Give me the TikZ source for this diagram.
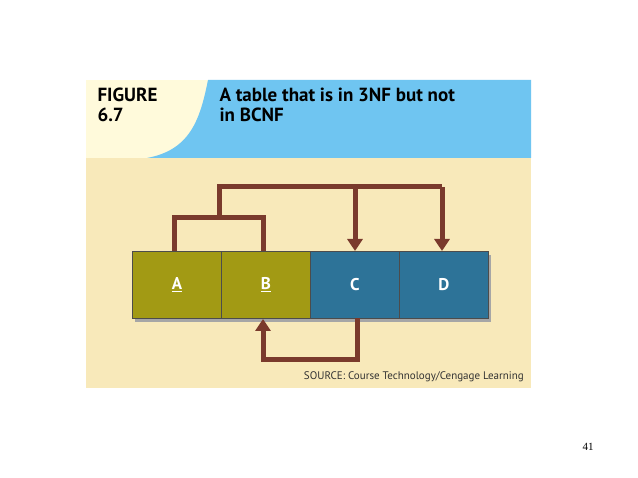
\documentclass[tikz,border=0pt]{standalone}
\usepackage{fontspec}
\setmainfont{PT Sans}
\newfontfamily\numfont{Liberation Serif}
\usetikzlibrary{arrows.meta}
\definecolor{cream}{HTML}{FFFADB}
\definecolor{skyb}{HTML}{6FC5F1}
\definecolor{bodyc}{HTML}{F8E9BA}
\definecolor{olive}{HTML}{A29A14}
\definecolor{teal}{HTML}{2D7398}
\definecolor{arrc}{HTML}{7A3A2C}
\begin{document}
\begin{tikzpicture}[x=1pt,y=-1pt,
  cell/.style={draw=black!70,line width=0.8pt,minimum width=89pt,minimum height=67pt,inner sep=0pt,text=white,font=\bfseries\fontsize{17}{17}\selectfont},
  dep/.style={draw=arrc,line width=5pt},
  deparr/.style={dep,-{Triangle[width=15pt,length=12pt]}}]
\useasboundingbox (0,0) rectangle (638,478);
\fill[white] (0,0) rectangle (638,478);
\fill[bodyc] (86,158) rectangle (531,388);
\fill[cream] (86,80) rectangle (531,158);
\fill[skyb] (208,80) -- (531,80) -- (531,158) -- (147,158) .. controls (190,150) and (200,120) .. (208,80) -- cycle;
\node[anchor=north west,align=left,font=\bfseries\fontsize{19}{20}\selectfont] (fig) at (94,84) {FIGURE\\6.7};
\node[anchor=north west,align=left,font=\bfseries\fontsize{19}{20}\selectfont] (title) at (216,84) {A table that is in 3NF but not\\in BCNF};
\fill[black!35] (135,255) rectangle (491,322);
\node[cell,fill=olive,anchor=north west] (A) at (132,251) {\underline{A}};
\node[cell,fill=olive,anchor=north west] (B) at (221,251) {\underline{B}};
\node[cell,fill=teal,anchor=north west] (C) at (310,251) {C};
\node[cell,fill=teal,anchor=north west] (D) at (399,251) {D};
\coordinate (ja) at (174,218);
\coordinate (jb) at (263,218);
\coordinate (jm) at (219,218);
\coordinate (t1) at (219,187);
\coordinate (tc) at (355,187);
\coordinate (td) at (442,187);
\draw[dep] (174,251) -- (ja) -- (jb) -- (263,251);
\draw[dep] (jm) -- (t1) -- (td);
\draw[deparr] (tc) -- (355,251);
\draw[deparr] (td) -- (442,251);
\draw[deparr] (357,318) -- (357,360) -- (263,360) -- (263,319);
\node[anchor=south east,inner sep=0pt,font=\fontsize{11}{11}\selectfont,text=black!80] (src) at (524,382) {SOURCE: Course Technology/Cengage Learning};
\node[font=\numfont\fontsize{11}{11}\selectfont] (pg) at (588,447) {41};
\end{tikzpicture}
\end{document}
